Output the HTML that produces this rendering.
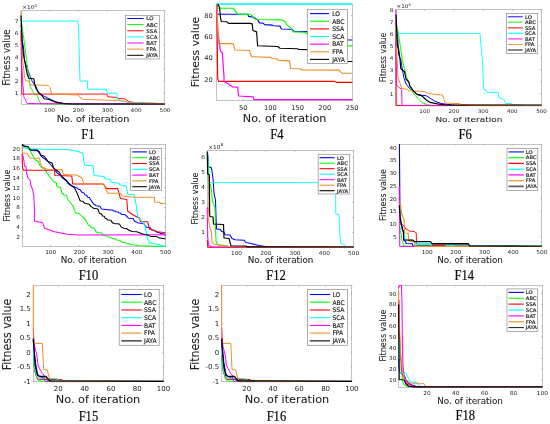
<!DOCTYPE html>
<html lang="en"><head><meta charset="utf-8"><title>Convergence curves</title>
<style>html,body{margin:0;padding:0;background:#fff;overflow:hidden}svg{display:block}text{font-family:"DejaVu Sans","Liberation Sans",sans-serif;fill:#222}.b{stroke:#222;stroke-width:0.07px}.lg{stroke:#222;stroke-width:0.16px}.cap{font-family:"Liberation Serif",serif;fill:#0a0a0a;stroke:#0a0a0a;stroke-width:0.22px}.c{fill:none;stroke-linejoin:round;stroke-linecap:butt}</style></head><body>
<svg width="550" height="424" viewBox="0 0 550 424">
<rect width="550" height="424" fill="#fff"/>
<g>
<rect x="21.5" y="10.5" width="143" height="94" fill="#fff" stroke="#c2c2c2" stroke-width="1"/>
<path d="M49.5 104.2v-1.2M49.5 10.4v1.2M78.4 104.2v-1.2M78.4 10.4v1.2M107.3 104.2v-1.2M107.3 10.4v1.2M136.2 104.2v-1.2M136.2 10.4v1.2M165 104.2v-1.2M165 10.4v1.2M21.2 93.2h1.2M164.6 93.2h-1.2M21.2 81.1h1.2M164.6 81.1h-1.2M21.2 69.1h1.2M164.6 69.1h-1.2M21.2 57.1h1.2M164.6 57.1h-1.2M21.2 45.1h1.2M164.6 45.1h-1.2M21.2 33h1.2M164.6 33h-1.2M21.2 21h1.2M164.6 21h-1.2" stroke="#a0a0a0" stroke-width="0.8" fill="none"/>
<clipPath id="cp1"><rect x="20" y="9.4" width="145.8" height="95.8"/></clipPath>
<g clip-path="url(#cp1)">
<path class="c" d="M21 25L22.7 43L23.5 47L24.5 60L27.3 68.8L29.5 74.6L31.7 80.5L34.6 84.9L36.1 89.2L39.7 94.4L44.9 96.5L49.2 98.7L55.1 101.7L60.9 103.1L66.8 103.9L164.6 104" stroke="#0000ff" stroke-width="0.95"/>
<path class="c" d="M21 20L21.5 22L24 40L26.6 60L28.8 77.5L30.2 86.3L33.9 93.6L37.5 95.8L39 100.9L41.2 103.6L45 104L164.6 104" stroke="#00ff00" stroke-width="0.95"/>
<path class="c" d="M21 30L21.8 94.1L106.8 94.1L107.7 96.8L116.8 97.4L117.7 98.6L124 98.6L126 99.5L128.6 101.4L132.3 102.3L139.5 102.9L165 103.8" stroke="#ff0000" stroke-width="0.95"/>
<path class="c" d="M21 15L21.3 21L77.8 21L78.5 27.3L79.5 65L80 81L87.3 81L87.8 89.2L106.5 89.2L107.2 93.2L116.8 93.2L117.7 99.5L124 101.4L128.6 102.3L143 102.8L165 103.8" stroke="#00ffff" stroke-width="0.95"/>
<path class="c" d="M21.2 30L21.8 65L22.7 83L23.5 90L23.8 96.4L24.4 98.6L25.7 99.5L26 101.8L27.3 103.4L36.8 103.6L165 104" stroke="#ff00ff" stroke-width="0.95"/>
<path class="c" d="M21 10.5L22.5 60L23.3 65L24.5 76L25.5 80.5L29 81.4L30 85L48.2 85.4L50 87.7L51.8 94L78.2 95L80 97.4L83.6 99.5L100 99.9L117.7 100.5L126 101.4L127.7 102.6L145 103.2L165 103.5" stroke="#ec9028" stroke-width="0.95"/>
<path class="c" d="M21 15.5L22 40L23.5 55L25 63L25.8 67L27.3 74.6L28.8 78.3L33.9 78.7L34.6 84.1L38.3 92.2L41.9 95.1L44.1 98.7L49.2 99.5L56.5 102.4L63.9 103.6L72.7 104L164.6 104" stroke="#000000" stroke-width="1.15"/>
</g>
<text transform="translate(49.5 112.2) scale(1.15 1)" font-size="5.1" text-anchor="middle">100</text>
<text transform="translate(78.4 112.2) scale(1.15 1)" font-size="5.1" text-anchor="middle">200</text>
<text transform="translate(107.3 112.2) scale(1.15 1)" font-size="5.1" text-anchor="middle">300</text>
<text transform="translate(136.2 112.2) scale(1.15 1)" font-size="5.1" text-anchor="middle">400</text>
<text transform="translate(165 112.2) scale(1.15 1)" font-size="5.1" text-anchor="middle">500</text>
<text transform="translate(18.6 95) scale(1.15 1)" font-size="5.1" text-anchor="end">1</text>
<text transform="translate(18.6 82.9) scale(1.15 1)" font-size="5.1" text-anchor="end">2</text>
<text transform="translate(18.6 70.9) scale(1.15 1)" font-size="5.1" text-anchor="end">3</text>
<text transform="translate(18.6 58.9) scale(1.15 1)" font-size="5.1" text-anchor="end">4</text>
<text transform="translate(18.6 46.9) scale(1.15 1)" font-size="5.1" text-anchor="end">5</text>
<text transform="translate(18.6 34.8) scale(1.15 1)" font-size="5.1" text-anchor="end">6</text>
<text transform="translate(18.6 22.8) scale(1.15 1)" font-size="5.1" text-anchor="end">7</text>
<text transform="translate(22 9) scale(1.15 1)" font-size="5.1">×10<tspan dy="-2.3" font-size="3.8">4</tspan></text>
<text transform="translate(10 57.5) rotate(-90) scale(1 1.15)" font-size="8.6" text-anchor="middle" class="b">Fitness value</text>
<text transform="translate(93 121.9) scale(1.13 1)" font-size="8.6" text-anchor="middle" class="b">No. of iteration</text>
<rect x="125.4" y="15.3" width="34.1" height="43.7" fill="#fff" stroke="#8c8c8c" stroke-width="0.7"/>
<path d="M127.2 18.5H143.5" stroke="#0000ff" stroke-width="1.0" fill="none"/>
<text transform="translate(146.3 20.3) scale(1.08 1)" font-size="5.1" class="lg">LO</text>
<path d="M127.2 24.6H143.5" stroke="#00ff00" stroke-width="1.0" fill="none"/>
<text transform="translate(146.3 26.5) scale(1.08 1)" font-size="5.1" class="lg">ABC</text>
<path d="M127.2 30.8H143.5" stroke="#ff0000" stroke-width="1.0" fill="none"/>
<text transform="translate(146.3 32.6) scale(1.08 1)" font-size="5.1" class="lg">SSA</text>
<path d="M127.2 36.9H143.5" stroke="#00ffff" stroke-width="1.0" fill="none"/>
<text transform="translate(146.3 38.7) scale(1.08 1)" font-size="5.1" class="lg">SCA</text>
<path d="M127.2 43H143.5" stroke="#ff00ff" stroke-width="1.0" fill="none"/>
<text transform="translate(146.3 44.9) scale(1.08 1)" font-size="5.1" class="lg">BAT</text>
<path d="M127.2 49.1H143.5" stroke="#ec9028" stroke-width="1.0" fill="none"/>
<text transform="translate(146.3 51) scale(1.08 1)" font-size="5.1" class="lg">FPA</text>
<path d="M127.2 55.3H143.5" stroke="#000000" stroke-width="1.0" fill="none"/>
<text transform="translate(146.3 57.1) scale(1.08 1)" font-size="5.1" class="lg">JAYA</text>
<text transform="translate(87.9 139.3) scale(0.83 1)" font-size="15.2" text-anchor="middle" class="cap">F1</text>
</g>
<g>
<rect x="216.5" y="4.5" width="136" height="96" fill="#fff" stroke="#c2c2c2" stroke-width="1"/>
<path d="M243.2 100.4v-1.2M243.2 4v1.2M270.4 100.4v-1.2M270.4 4v1.2M297.6 100.4v-1.2M297.6 4v1.2M324.8 100.4v-1.2M324.8 4v1.2M352.1 100.4v-1.2M352.1 4v1.2M216.5 79.2h1.2M352.4 79.2h-1.2M216.5 58h1.2M352.4 58h-1.2M216.5 36.8h1.2M352.4 36.8h-1.2M216.5 15.6h1.2M352.4 15.6h-1.2" stroke="#a0a0a0" stroke-width="0.8" fill="none"/>
<clipPath id="cp2"><rect x="215.3" y="3" width="138.3" height="98.4"/></clipPath>
<g clip-path="url(#cp2)">
<path class="c" d="M216.8 14.2L247.7 14.2L248.6 16.4L253.7 17.3L258 20.2L259.5 22.9L263.2 23.2L264.6 24.6L271.9 25.1L273.4 25.8L280 26.1L281.4 29L291.7 29.3L293.9 31.2L307 31.6L320 35L335 38L347.3 40L352.4 40" stroke="#0000ff" stroke-width="1.15"/>
<path class="c" d="M216.8 4L217.7 8.2L233.2 8.2L237.7 14.2L250 14.4L252.2 15.8L254.4 18.8L257.3 19.5L282.2 19.9L285.1 21.7L286.5 24.6L290.2 27.5L291.7 29L293.1 31.9L304.8 32.2L307 34.1L320 38L335 42L347.3 45.8L352.4 45.8" stroke="#00ff00" stroke-width="1.15"/>
<path class="c" d="M216.8 4L217.7 78.6L218.6 81.4L334.5 81.4L336.4 82.3L352.4 82.3" stroke="#ff0000" stroke-width="1.15"/>
<path class="c" d="M216.5 4L352.4 4" stroke="#00ffff" stroke-width="1.4"/>
<path class="c" d="M216.8 4L217.7 31L220.5 51L222.3 52.7L224 76.4L224 81.4L228.6 84L232.3 86.8L237.7 87.2L238.6 96L253.2 96.8L254 99.7L352.4 99.7" stroke="#ff00ff" stroke-width="1.2"/>
<path class="c" d="M216.8 4L217.4 18.2L218.6 43.6L233.2 43.6L235 50L249.5 50.5L251.4 56.6L270.5 57.4L272 58.5L277 59L278.5 60.4L289.5 60.9L290.6 68.5L300.4 68.8L301.9 70L339 70.1L341.8 73.2L352.4 73.2" stroke="#ec9028" stroke-width="1.15"/>
<path class="c" d="M217.7 4L219.5 7.3L220.5 18.2L221.4 21.5L226.8 21.8L228.6 23.4L250 23.4L252.2 23.9L252.9 30.5L256.6 31.9L257.6 45.8L277.8 46.5L280 48.3L297.5 48.7L299 49.5L307.3 49.6L320 55L335 58L347.3 61.5L352.4 61.5" stroke="#000000" stroke-width="1.15"/>
</g>
<text transform="translate(243.2 109.6) scale(1.03 1)" font-size="6.6" text-anchor="middle">50</text>
<text transform="translate(270.4 109.6) scale(1.03 1)" font-size="6.6" text-anchor="middle">100</text>
<text transform="translate(297.6 109.6) scale(1.03 1)" font-size="6.6" text-anchor="middle">150</text>
<text transform="translate(324.8 109.6) scale(1.03 1)" font-size="6.6" text-anchor="middle">200</text>
<text transform="translate(352.1 109.6) scale(1.03 1)" font-size="6.6" text-anchor="middle">250</text>
<text transform="translate(212.9 81.6) scale(1.03 1)" font-size="6.6" text-anchor="end">20</text>
<text transform="translate(212.9 60.4) scale(1.03 1)" font-size="6.6" text-anchor="end">40</text>
<text transform="translate(212.9 39.2) scale(1.03 1)" font-size="6.6" text-anchor="end">60</text>
<text transform="translate(212.9 18) scale(1.03 1)" font-size="6.6" text-anchor="end">80</text>
<text transform="translate(199.2 52) rotate(-90)" font-size="10.8" text-anchor="middle" class="b">Fitness value</text>
<text transform="translate(284.6 121.6) scale(1.13 1)" font-size="9.9" text-anchor="middle" class="b">No. of iteration</text>
<rect x="307.3" y="9.3" width="40.3" height="54.3" fill="#fff" stroke="#8c8c8c" stroke-width="0.7"/>
<path d="M310 13.6H329" stroke="#0000ff" stroke-width="1.1" fill="none"/>
<text transform="translate(332.2 15.9) scale(0.96 1)" font-size="6.3" class="lg">LO</text>
<path d="M310 21.2H329" stroke="#00ff00" stroke-width="1.1" fill="none"/>
<text transform="translate(332.2 23.5) scale(0.96 1)" font-size="6.3" class="lg">ABC</text>
<path d="M310 28.9H329" stroke="#ff0000" stroke-width="1.1" fill="none"/>
<text transform="translate(332.2 31.1) scale(0.96 1)" font-size="6.3" class="lg">SSA</text>
<path d="M310 36.5H329" stroke="#00ffff" stroke-width="1.1" fill="none"/>
<text transform="translate(332.2 38.8) scale(0.96 1)" font-size="6.3" class="lg">SCA</text>
<path d="M310 44.2H329" stroke="#ff00ff" stroke-width="1.1" fill="none"/>
<text transform="translate(332.2 46.4) scale(0.96 1)" font-size="6.3" class="lg">BAT</text>
<path d="M310 51.8H329" stroke="#ec9028" stroke-width="1.1" fill="none"/>
<text transform="translate(332.2 54.1) scale(0.96 1)" font-size="6.3" class="lg">FPA</text>
<path d="M310 59.4H329" stroke="#000000" stroke-width="1.1" fill="none"/>
<text transform="translate(332.2 61.7) scale(0.96 1)" font-size="6.3" class="lg">JAYA</text>
<text transform="translate(276.9 139) scale(0.83 1)" font-size="15.2" text-anchor="middle" class="cap">F4</text>
</g>
<g>
<rect x="395.5" y="9.5" width="146" height="96" fill="#fff" stroke="#c2c2c2" stroke-width="1"/>
<path d="M424.7 105.6v-1.2M424.7 9.6v1.2M453.9 105.6v-1.2M453.9 9.6v1.2M483.1 105.6v-1.2M483.1 9.6v1.2M512.3 105.6v-1.2M512.3 9.6v1.2M541.5 105.6v-1.2M541.5 9.6v1.2M395.5 93.6h1.2M541.5 93.6h-1.2M395.5 81.6h1.2M541.5 81.6h-1.2M395.5 69.6h1.2M541.5 69.6h-1.2M395.5 57.6h1.2M541.5 57.6h-1.2M395.5 45.6h1.2M541.5 45.6h-1.2M395.5 33.6h1.2M541.5 33.6h-1.2M395.5 21.6h1.2M541.5 21.6h-1.2M395.5 9.6h1.2M541.5 9.6h-1.2" stroke="#a0a0a0" stroke-width="0.8" fill="none"/>
<clipPath id="cp3"><rect x="394.3" y="8.6" width="148.4" height="98"/></clipPath>
<g clip-path="url(#cp3)">
<path class="c" d="M396.3 25.5L397.7 36.4L398.6 54.5L400.8 60L402.3 68.8L403.8 77.5L406 84.1L409.6 88.5L414 91.4L416.9 94.4L421.3 95.1L426.4 95.8L430.8 98.7L435.9 101.7L441.8 103.6L449.1 104.6L455 105.4L541.5 105.5" stroke="#0000ff" stroke-width="1.0"/>
<path class="c" d="M396.3 23.6L398.6 34.5L400.5 47.3L402.3 60L404.5 68.8L406.7 77.5L409.6 84.9L412.5 91.4L414.7 95.1L418.4 98.7L422 102.4L425 103.9L427.9 104.8L432 105.4L541.5 105.5" stroke="#00ff00" stroke-width="1.0"/>
<path class="c" d="M395.9 23L396.2 105.4L541.5 105.8" stroke="#ff0000" stroke-width="1.0"/>
<path class="c" d="M396 14L396.5 33.6L480 33.6L481.8 54.5L482.7 65L483.6 89.5L486.4 90L487.3 92.3L498.2 92.3L499 98L502.7 98.6L504.5 100.5L505.5 103.5L511.8 103.5L512.7 104.6L522.7 105L528 105.5L541.5 105.5" stroke="#00ffff" stroke-width="0.9"/>
<path class="c" d="M396 10L396.3 80L396.5 84.9L399.4 87.8L401.6 89.2L402 104.8L402.5 105.7L447 105.8" stroke="#ff00ff" stroke-width="1.0"/>
<path class="c" d="M396 23.6L396.4 45L397.2 60L397.9 77.5L400.1 83.4L401.6 88.5L407.4 89.2L408.9 91L424.2 91.4L428.6 93.6L442.5 95.1L444 99.5L445.4 103.1L459.3 103.6L461.5 104.6L475 105.2L541.5 105.3" stroke="#ec9028" stroke-width="1.0"/>
<path class="c" d="M396 14.5L396.8 32.7L397.4 45.5L398.6 49L400.1 60L400.8 68.8L404.5 71.7L406 79L408.9 82L409.6 85.6L413.3 90.7L416.9 94.4L422 95.8L425.7 99.5L430.1 102.4L437.4 103.9L444.7 104.8L450 105L541.5 105" stroke="#000000" stroke-width="1.2"/>
</g>
<text transform="translate(424.7 113.3) scale(1.08 1)" font-size="5.2" text-anchor="middle">100</text>
<text transform="translate(453.9 113.3) scale(1.08 1)" font-size="5.2" text-anchor="middle">200</text>
<text transform="translate(483.1 113.3) scale(1.08 1)" font-size="5.2" text-anchor="middle">300</text>
<text transform="translate(512.3 113.3) scale(1.08 1)" font-size="5.2" text-anchor="middle">400</text>
<text transform="translate(541.5 113.3) scale(1.08 1)" font-size="5.2" text-anchor="middle">500</text>
<text transform="translate(393.3 96.3) scale(1.08 1)" font-size="5.2" text-anchor="end">1</text>
<text transform="translate(393.3 84.3) scale(1.08 1)" font-size="5.2" text-anchor="end">2</text>
<text transform="translate(393.3 72.3) scale(1.08 1)" font-size="5.2" text-anchor="end">3</text>
<text transform="translate(393.3 60.3) scale(1.08 1)" font-size="5.2" text-anchor="end">4</text>
<text transform="translate(393.3 48.3) scale(1.08 1)" font-size="5.2" text-anchor="end">5</text>
<text transform="translate(393.3 36.3) scale(1.08 1)" font-size="5.2" text-anchor="end">6</text>
<text transform="translate(393.3 24.3) scale(1.08 1)" font-size="5.2" text-anchor="end">7</text>
<text transform="translate(393.3 12.3) scale(1.08 1)" font-size="5.2" text-anchor="end">8</text>
<text transform="translate(396.5 8) scale(1.08 1)" font-size="5.2">×10<tspan dy="-2.3" font-size="3.9">4</tspan></text>
<text transform="translate(386 57.5) rotate(-90) scale(1 1.19)" font-size="7.6" text-anchor="middle" class="b">Fitness value</text>
<text transform="translate(468.9 121.9) scale(1.15 1)" font-size="7.8" text-anchor="middle" class="b">No. of iteration</text>
<rect x="506.4" y="13.4" width="31.3" height="40.2" fill="#fff" stroke="#8c8c8c" stroke-width="0.7"/>
<path d="M507.8 16.7H522.7" stroke="#0000ff" stroke-width="1.5" stroke-opacity="0.65" fill="none"/>
<text transform="translate(525 18.5) scale(1.08 1)" font-size="4.9" class="lg">LO</text>
<path d="M507.8 22.2H522.7" stroke="#00ff00" stroke-width="1.4" stroke-opacity="0.7" fill="none"/>
<text transform="translate(525 24) scale(1.08 1)" font-size="4.9" class="lg">ABC</text>
<path d="M507.8 27.8H522.7" stroke="#ff0000" stroke-width="1.5" stroke-opacity="0.65" fill="none"/>
<text transform="translate(525 29.6) scale(1.08 1)" font-size="4.9" class="lg">SSA</text>
<path d="M507.8 33.3H522.7" stroke="#00ffff" stroke-width="1.4" stroke-opacity="0.8" fill="none"/>
<text transform="translate(525 35.1) scale(1.08 1)" font-size="4.9" class="lg">SCA</text>
<path d="M507.8 38.9H522.7" stroke="#ff00ff" stroke-width="1.5" stroke-opacity="0.65" fill="none"/>
<text transform="translate(525 40.7) scale(1.08 1)" font-size="4.9" class="lg">BAT</text>
<path d="M507.8 44.5H522.7" stroke="#ec9028" stroke-width="0.9" fill="none"/>
<text transform="translate(525 46.2) scale(1.08 1)" font-size="4.9" class="lg">FPA</text>
<path d="M507.8 50H522.7" stroke="#000000" stroke-width="1.6" stroke-opacity="0.6" fill="none"/>
<text transform="translate(525 51.8) scale(1.08 1)" font-size="4.9" class="lg">JAYA</text>
<text transform="translate(465.1 139) scale(0.83 1)" font-size="15.2" text-anchor="middle" class="cap">F6</text>
</g>
<g>
<rect x="22.5" y="144.5" width="143" height="102" fill="#fff" stroke="#c2c2c2" stroke-width="1"/>
<path d="M50.7 246.4v-1.2M50.7 144v1.2M79.4 246.4v-1.2M79.4 144v1.2M108.1 246.4v-1.2M108.1 144v1.2M136.8 246.4v-1.2M136.8 144v1.2M165.5 246.4v-1.2M165.5 144v1.2M22.2 236.9h1.2M165.5 236.9h-1.2M22.2 227.1h1.2M165.5 227.1h-1.2M22.2 217.3h1.2M165.5 217.3h-1.2M22.2 207.5h1.2M165.5 207.5h-1.2M22.2 197.7h1.2M165.5 197.7h-1.2M22.2 187.9h1.2M165.5 187.9h-1.2M22.2 178.1h1.2M165.5 178.1h-1.2M22.2 168.3h1.2M165.5 168.3h-1.2M22.2 158.5h1.2M165.5 158.5h-1.2M22.2 148.7h1.2M165.5 148.7h-1.2" stroke="#a0a0a0" stroke-width="0.8" fill="none"/>
<clipPath id="cp4"><rect x="21" y="143" width="145.7" height="104.4"/></clipPath>
<g clip-path="url(#cp4)">
<path class="c" d="M22 144.5L24 146L28 147L29.5 149.5L31 150.5L37.5 150.8L39.5 153L41.5 156.5L45 159L48 161.5L50 164L53.5 168L57 173L60 175L62 177.5L66 180.5L68 183.5L72 186L76.4 187.7L77.4 187.9L78.2 189.3L80.2 189.7L81.9 192.4L83.8 192.8L85 195L86.7 195.3L87.7 197.2L89.4 197.6L90.5 199.5L94 204.5L95.1 204.7L96.1 205.8L99.8 206.3L101.4 209L110.5 210L112.5 210.1L113.3 210.9L115.2 211.1L115.8 211.8L118 211.9L118.6 212.7L120.4 212.9L121.2 214.1L121.2 214.1L121.2 214.2L125.1 214.8L128.6 218.2L133.1 218.6L134.6 221.2L135.4 221.3L136.2 222L137 222.1L137.7 222.7L138 222.7L138.2 223L143.8 223.6L146.1 227L146.6 227L146.8 227.3L150.4 227.7L151.6 229.7L152 229.7L152.2 229.9L154.3 230.2L156 231.8L157.1 231.9L157.5 232.4L159 232.5L160.6 233.6L164 233.9L165.5 235.5" stroke="#0000ff" stroke-width="1.05"/>
<path class="c" d="M22 147L28 148L30 150L32.5 155L35 159.5L38.5 161.5L39.5 165L41.5 167.5L45 169L47 173L50 177L54 182L56.4 182.7L57 186.4L60.6 187.4L61.8 193.2L63 193.4L63.4 194.8L66.6 195.6L68.2 200L72.7 205.5L75.5 212.7L75.9 212.7L76.1 213L79.2 213.5L81.8 216.4L85 219L88.6 225.5L90 225.8L91 227.5L94.3 228.2L96 231.8L96.8 231.9L97.2 232.4L101.6 232.9L103.2 235.5L106.3 235.7L107.9 236.9L109.6 237L110.2 237.6L111.3 237.7L112.3 238.2L114 238.4L115.7 239.5L116.4 239.6L116.6 239.9L119.8 240.2L121.4 241.8L122.1 241.9L122.7 242.2L124.7 242.4L126.6 243.4L128.6 243.5L130.5 244.5L131.2 244.5L131.5 244.6L133.5 244.7L134.7 245.1L137.1 245.2L139.5 245.8L165.5 246.4" stroke="#00ff00" stroke-width="1.05"/>
<path class="c" d="M22 154L22.5 168L23.5 170.3L54.5 170.3L55 175.5L71.8 176L72.7 184L103.2 184L106.8 188.6L117.7 188.6L120.5 198.6L126.8 199.5L127.7 211L132.3 214.5L139.5 218.2L140.5 221.8L147.7 221.8L149.5 229L157.7 231.8L165.5 232.7" stroke="#ff0000" stroke-width="1.05"/>
<path class="c" d="M22 147.5L28 148.5L42 149.2L67.3 149.5L78.2 151.5L82.7 153.2L84.5 165L93.2 166L94 175.4L104 176.5L105 178.6L110.5 179.5L111.4 182.3L118.6 183.2L120.5 185L126 186L127.7 194L134 194.6L136 204L137.7 216.4L139.5 218.2L145 225.5L146.8 236.4L149.5 242.7L157.7 244.5L165.5 246.4" stroke="#00ffff" stroke-width="1.05"/>
<path class="c" d="M22.3 153L22.5 155L23.5 158L24.5 166L26 166.5L26.5 173L28 178L30 180L30.8 185L32.7 190L33.8 196L34.3 205L34.5 221L42.7 222.7L44.5 228.2L54.5 231.8L67.3 234.2L78.2 235L165.5 234.7" stroke="#ff00ff" stroke-width="1.05"/>
<path class="c" d="M22 146L22.5 153L27 153.2L30 158L39.5 158.2L40.5 164L42 167L45 168.5L48 169.5L58 169.8L62 169.5L63 173L64 174.5L76.4 175L81.8 177.7L83.6 183.2L100 184L104 185L107.7 193.2L120.5 193.2L122.3 196L134 197.2L153.7 197.3L154.5 197.8L154.7 202.1L159.7 202.3L160.5 203.4L165.5 203.5" stroke="#ec9028" stroke-width="1.05"/>
<path class="c" d="M22 144.5L24 146L28 146.5L30 149.5L31.5 150L37 150L39.5 152L40.5 155L44 156L46 158.5L48 161.5L52 163L53.5 167.5L56 170L59 172L61 175L63 177.5L67 181L70 184.5L74.5 187.7L77 193L80 200.5L80.3 200.6L80.6 200.9L83 201.3L85 203.6L88.9 204.1L91.3 206.8L92 206.9L92.3 207.3L92.9 207.4L93.3 208.2L97.9 209L99.5 213.6L101.7 214L102.4 216L104.4 216.3L105 218.2L106.3 218.5L107.8 219.9L111 220.3L112.3 222.7L112.7 222.7L112.8 223L113.5 223L113.8 223.5L119.4 224L121.4 227.3L122.4 227.4L123.5 228.2L126.5 228.5L129.7 230.7L130.3 230.7L130.5 231L131.3 231.1L132.1 231.4L132.4 231.4L132.6 231.5L136.7 231.8L141.4 233.6L142.4 233.7L143.2 234.2L144.4 234.2L144.7 234.6L147.7 234.9L150.5 236.4L156.6 236.6L158.9 237.9L159 237.9L159 237.9L160.2 237.9L161.2 238.3L161.8 238.3L162.2 238.4L164 238.5L165.5 239" stroke="#000000" stroke-width="1.05"/>
</g>
<text transform="translate(50.7 253.8) scale(1.08 1)" font-size="5.4" text-anchor="middle">100</text>
<text transform="translate(79.4 253.8) scale(1.08 1)" font-size="5.4" text-anchor="middle">200</text>
<text transform="translate(108.1 253.8) scale(1.08 1)" font-size="5.4" text-anchor="middle">300</text>
<text transform="translate(136.8 253.8) scale(1.08 1)" font-size="5.4" text-anchor="middle">400</text>
<text transform="translate(165.5 253.8) scale(1.08 1)" font-size="5.4" text-anchor="middle">500</text>
<text transform="translate(20 238.8) scale(1.08 1)" font-size="5.4" text-anchor="end">2</text>
<text transform="translate(20 229) scale(1.08 1)" font-size="5.4" text-anchor="end">4</text>
<text transform="translate(20 219.2) scale(1.08 1)" font-size="5.4" text-anchor="end">6</text>
<text transform="translate(20 209.4) scale(1.08 1)" font-size="5.4" text-anchor="end">8</text>
<text transform="translate(20 199.6) scale(1.08 1)" font-size="5.4" text-anchor="end">10</text>
<text transform="translate(20 189.8) scale(1.08 1)" font-size="5.4" text-anchor="end">12</text>
<text transform="translate(20 180) scale(1.08 1)" font-size="5.4" text-anchor="end">14</text>
<text transform="translate(20 170.2) scale(1.08 1)" font-size="5.4" text-anchor="end">16</text>
<text transform="translate(20 160.4) scale(1.08 1)" font-size="5.4" text-anchor="end">18</text>
<text transform="translate(20 150.6) scale(1.08 1)" font-size="5.4" text-anchor="end">20</text>
<text transform="translate(9.6 195.5) rotate(-90) scale(1 1.15)" font-size="8.0" text-anchor="middle" class="b">Fitness value</text>
<text transform="translate(93.6 263) scale(1.1 1)" font-size="8.0" text-anchor="middle" class="b">No. of iteration</text>
<rect x="130.5" y="148.6" width="31.2" height="41.9" fill="#fff" stroke="#8c8c8c" stroke-width="0.7"/>
<path d="M132.3 151.9H146.8" stroke="#0000ff" stroke-width="1.1" fill="none"/>
<text transform="translate(149 153.7) scale(1.08 1)" font-size="4.9" class="lg">LO</text>
<path d="M132.3 157.7H146.8" stroke="#00ff00" stroke-width="1.1" fill="none"/>
<text transform="translate(149 159.5) scale(1.08 1)" font-size="4.9" class="lg">ABC</text>
<path d="M132.3 163.5H146.8" stroke="#ff0000" stroke-width="1.1" fill="none"/>
<text transform="translate(149 165.3) scale(1.08 1)" font-size="4.9" class="lg">SSA</text>
<path d="M132.3 169.3H146.8" stroke="#00ffff" stroke-width="1.1" fill="none"/>
<text transform="translate(149 171.1) scale(1.08 1)" font-size="4.9" class="lg">SCA</text>
<path d="M132.3 175.1H146.8" stroke="#ff00ff" stroke-width="1.1" fill="none"/>
<text transform="translate(149 176.9) scale(1.08 1)" font-size="4.9" class="lg">BAT</text>
<path d="M132.3 180.9H146.8" stroke="#ec9028" stroke-width="1.1" fill="none"/>
<text transform="translate(149 182.7) scale(1.08 1)" font-size="4.9" class="lg">FPA</text>
<path d="M132.3 186.7H146.8" stroke="#000000" stroke-width="1.1" fill="none"/>
<text transform="translate(149 188.5) scale(1.08 1)" font-size="4.9" class="lg">JAYA</text>
<text transform="translate(88.4 279.6) scale(0.83 1)" font-size="15.1" text-anchor="middle" class="cap">F10</text>
</g>
<g>
<rect x="207.5" y="150.5" width="146" height="97" fill="#fff" stroke="#c2c2c2" stroke-width="1"/>
<path d="M236.5 247.3v-1.2M236.5 150.5v1.2M265.8 247.3v-1.2M265.8 150.5v1.2M295 247.3v-1.2M295 150.5v1.2M324.3 247.3v-1.2M324.3 150.5v1.2M353.6 247.3v-1.2M353.6 150.5v1.2M207.2 232.5h1.2M353.6 232.5h-1.2M207.2 217.5h1.2M353.6 217.5h-1.2M207.2 202.4h1.2M353.6 202.4h-1.2M207.2 187.4h1.2M353.6 187.4h-1.2M207.2 172.4h1.2M353.6 172.4h-1.2M207.2 157.3h1.2M353.6 157.3h-1.2" stroke="#a0a0a0" stroke-width="0.8" fill="none"/>
<clipPath id="cp5"><rect x="206" y="149.5" width="148.8" height="98.8"/></clipPath>
<g clip-path="url(#cp5)">
<path class="c" d="M207.7 153.2L208.6 166.8L211.4 167.7L212.3 173.2L213.2 180.5L214 193.2L215.5 200L216 217L216.5 229L220.5 229.5L221.5 231.5L224 232L225 234.8L230 235L232 238.5L235 239.8L244 240.2L246 242.5L250 243.2L255 244.5L259 245.6L266.8 246.8L353.6 247.2" stroke="#0000ff" stroke-width="1.05"/>
<path class="c" d="M207.7 156.8L209.5 182.3L211.4 189.5L212.3 200L214 205L215 208L215.5 228L216 241L217.5 244.5L226 245.8L232 247L353.6 247.2" stroke="#00ff00" stroke-width="1.05"/>
<path class="c" d="M207.2 240L207.8 247.2L353.6 247.2" stroke="#ff0000" stroke-width="1.05"/>
<path class="c" d="M207.4 151L208.2 182.6L335.5 182.6L335.8 214.2L339 214.5L340 236.4L341 243.6L344.5 244.5L346.4 247L353.6 247.2" stroke="#00ffff" stroke-width="0.9"/>
<path class="c" d="M207.2 207.3L207.7 236.4L208.6 245.5L212.3 247L353.6 247.2" stroke="#ff00ff" stroke-width="1.05"/>
<path class="c" d="M207.2 176L208.6 176.8L208.9 205L208 217L210 228L211.5 232L212 242L214 244L220 245.5L227 246.2L246 246.8L254 247.3L353.6 247.4" stroke="#ec9028" stroke-width="1.05"/>
<path class="c" d="M207.2 151.4L207.7 174L209.4 175L209.6 208L209.8 216.5L213 217L213.5 224L223.5 224.5L224 238L229 238.5L231 245.8L246 246L247 246.9L353.6 247" stroke="#000000" stroke-width="1.15"/>
</g>
<text transform="translate(236.5 254.6) scale(1.08 1)" font-size="5.4" text-anchor="middle">100</text>
<text transform="translate(265.8 254.6) scale(1.08 1)" font-size="5.4" text-anchor="middle">200</text>
<text transform="translate(295 254.6) scale(1.08 1)" font-size="5.4" text-anchor="middle">300</text>
<text transform="translate(324.3 254.6) scale(1.08 1)" font-size="5.4" text-anchor="middle">400</text>
<text transform="translate(353.6 254.6) scale(1.08 1)" font-size="5.4" text-anchor="middle">500</text>
<text transform="translate(205 234.4) scale(1.08 1)" font-size="5.4" text-anchor="end">1</text>
<text transform="translate(205 219.4) scale(1.08 1)" font-size="5.4" text-anchor="end">2</text>
<text transform="translate(205 204.3) scale(1.08 1)" font-size="5.4" text-anchor="end">3</text>
<text transform="translate(205 189.3) scale(1.08 1)" font-size="5.4" text-anchor="end">4</text>
<text transform="translate(205 174.3) scale(1.08 1)" font-size="5.4" text-anchor="end">5</text>
<text transform="translate(205 159.2) scale(1.08 1)" font-size="5.4" text-anchor="end">6</text>
<text transform="translate(208.2 148.5) scale(1.08 1)" font-size="5.4">×10<tspan dy="-2.4" font-size="4.1">8</tspan></text>
<text transform="translate(198 198.5) rotate(-90) scale(1 1.15)" font-size="8.0" text-anchor="middle" class="b">Fitness value</text>
<text transform="translate(280.5 263) scale(1.1 1)" font-size="8.0" text-anchor="middle" class="b">No. of iteration</text>
<rect x="318.2" y="154.3" width="31.5" height="39.7" fill="#fff" stroke="#8c8c8c" stroke-width="0.7"/>
<path d="M319.5 157.7H334.5" stroke="#0000ff" stroke-width="1.1" fill="none"/>
<text transform="translate(337 159.5) scale(1.08 1)" font-size="4.9" class="lg">LO</text>
<path d="M319.5 163.2H334.5" stroke="#00ff00" stroke-width="1.1" fill="none"/>
<text transform="translate(337 165) scale(1.08 1)" font-size="4.9" class="lg">ABC</text>
<path d="M319.5 168.7H334.5" stroke="#ff0000" stroke-width="1.1" fill="none"/>
<text transform="translate(337 170.5) scale(1.08 1)" font-size="4.9" class="lg">SSA</text>
<path d="M319.5 174.2H334.5" stroke="#00ffff" stroke-width="1.1" fill="none"/>
<text transform="translate(337 176) scale(1.08 1)" font-size="4.9" class="lg">SCA</text>
<path d="M319.5 179.7H334.5" stroke="#ff00ff" stroke-width="1.1" fill="none"/>
<text transform="translate(337 181.5) scale(1.08 1)" font-size="4.9" class="lg">BAT</text>
<path d="M319.5 185.2H334.5" stroke="#ec9028" stroke-width="1.1" fill="none"/>
<text transform="translate(337 187) scale(1.08 1)" font-size="4.9" class="lg">FPA</text>
<path d="M319.5 190.7H334.5" stroke="#000000" stroke-width="1.1" fill="none"/>
<text transform="translate(337 192.5) scale(1.08 1)" font-size="4.9" class="lg">JAYA</text>
<text transform="translate(276 279.6) scale(0.83 1)" font-size="15.1" text-anchor="middle" class="cap">F12</text>
</g>
<g>
<rect x="399.5" y="144.5" width="142" height="102" fill="#fff" stroke="#c2c2c2" stroke-width="1"/>
<path d="M427.2 246.4v-1.2M427.2 144v1.2M455.8 246.4v-1.2M455.8 144v1.2M484.5 246.4v-1.2M484.5 144v1.2M513.1 246.4v-1.2M513.1 144v1.2M541.8 246.4v-1.2M541.8 144v1.2M399 236.7h1.2M541.8 236.7h-1.2M399 224h1.2M541.8 224h-1.2M399 211.3h1.2M541.8 211.3h-1.2M399 198.6h1.2M541.8 198.6h-1.2M399 185.9h1.2M541.8 185.9h-1.2M399 173.2h1.2M541.8 173.2h-1.2M399 160.5h1.2M541.8 160.5h-1.2M399 147.8h1.2M541.8 147.8h-1.2" stroke="#a0a0a0" stroke-width="0.8" fill="none"/>
<clipPath id="cp6"><rect x="397.8" y="143" width="145.2" height="104.4"/></clipPath>
<g clip-path="url(#cp6)">
<path class="c" d="M399.4 144L399.9 205L400.5 223.6L402.3 227.3L403.6 234.5L404.1 240.3L405.7 241.6L406 243.5L412.4 243.8L412.7 245.9L541.8 246.2" stroke="#0000ff" stroke-width="1.1"/>
<path class="c" d="M399.8 227.3L400.5 232.7L401.2 233.3L401.7 240.3L402.8 241.6L403.2 245.7L407 246.2L541.8 246.2" stroke="#00ff00" stroke-width="0.95"/>
<path class="c" d="M399.5 211L401.4 223.6L404 226.4L406 229L409.5 231L415 231.8L416.2 233L416.6 244L416.8 245.4L445 245.4L446 246.5L541.8 246.5" stroke="#ff0000" stroke-width="0.95"/>
<path class="c" d="M399.5 200L400.5 218.2L401.4 227.3L403.2 232L404.8 236L404.9 240.2L413 240.2L414.6 241.7L415.4 244.1L431 244.1L431.6 246.5L541.8 246.5" stroke="#00ffff" stroke-width="0.95"/>
<path class="c" d="M415.6 244.2L431 244.2" stroke="#00ffff" stroke-width="2.0"/>
<path class="c" d="M445.6 245.4L455 245.4" stroke="#00ffff" stroke-width="0.95"/>
<path class="c" d="M399.2 186L399.6 225.5L399.8 246.4L414 246.5L541.8 246.5" stroke="#ff00ff" stroke-width="0.95"/>
<path class="c" d="M400.5 202.7L401.4 212.7L404 220L404.7 233L408.2 233.3L408.6 240.9L413 241.6L414.3 242.5L415 246.5L445 246.5L541.8 246.5" stroke="#ec9028" stroke-width="1.1"/>
<path class="c" d="M431.5 244.5L468.2 244.5" stroke="#7a7a7a" stroke-width="1"/>
<path class="c" d="M399.2 205.5L400.5 220L402.3 229L403.5 232L403.6 240L413 240.1L414.6 241.6L430.5 241.6L432 243.6L468.2 243.6L469.6 245.9L541.8 246.2" stroke="#000000" stroke-width="1.15"/>
</g>
<text transform="translate(427.2 253.8) scale(1.08 1)" font-size="5.4" text-anchor="middle">100</text>
<text transform="translate(455.8 253.8) scale(1.08 1)" font-size="5.4" text-anchor="middle">200</text>
<text transform="translate(484.5 253.8) scale(1.08 1)" font-size="5.4" text-anchor="middle">300</text>
<text transform="translate(513.1 253.8) scale(1.08 1)" font-size="5.4" text-anchor="middle">400</text>
<text transform="translate(541.8 253.8) scale(1.08 1)" font-size="5.4" text-anchor="middle">500</text>
<text transform="translate(396.8 238.6) scale(1.08 1)" font-size="5.4" text-anchor="end">5</text>
<text transform="translate(396.8 225.9) scale(1.08 1)" font-size="5.4" text-anchor="end">10</text>
<text transform="translate(396.8 213.2) scale(1.08 1)" font-size="5.4" text-anchor="end">15</text>
<text transform="translate(396.8 200.5) scale(1.08 1)" font-size="5.4" text-anchor="end">20</text>
<text transform="translate(396.8 187.8) scale(1.08 1)" font-size="5.4" text-anchor="end">25</text>
<text transform="translate(396.8 175.1) scale(1.08 1)" font-size="5.4" text-anchor="end">30</text>
<text transform="translate(396.8 162.4) scale(1.08 1)" font-size="5.4" text-anchor="end">35</text>
<text transform="translate(396.8 149.7) scale(1.08 1)" font-size="5.4" text-anchor="end">40</text>
<text transform="translate(386 195) rotate(-90) scale(1 1.15)" font-size="8.0" text-anchor="middle" class="b">Fitness value</text>
<text transform="translate(470 263) scale(1.1 1)" font-size="8.0" text-anchor="middle" class="b">No. of iteration</text>
<rect x="507" y="148.4" width="30.8" height="42.1" fill="#fff" stroke="#8c8c8c" stroke-width="0.7"/>
<path d="M508.5 151.9H523.9" stroke="#0000ff" stroke-width="1.8" stroke-opacity="0.6" fill="none"/>
<text transform="translate(525.8 153.7) scale(1.08 1)" font-size="4.9" class="lg">LO</text>
<path d="M508.5 157.7H523.9" stroke="#00ff00" stroke-width="1.2" fill="none"/>
<text transform="translate(525.8 159.4) scale(1.08 1)" font-size="4.9" class="lg">ABC</text>
<path d="M508.5 163.4H523.9" stroke="#ff0000" stroke-width="1.2" fill="none"/>
<text transform="translate(525.8 165.2) scale(1.08 1)" font-size="4.9" class="lg">SSA</text>
<path d="M508.5 169.2H523.9" stroke="#00ffff" stroke-width="1.2" fill="none"/>
<text transform="translate(525.8 170.9) scale(1.08 1)" font-size="4.9" class="lg">SCA</text>
<path d="M508.5 174.9H523.9" stroke="#ff00ff" stroke-width="1.2" fill="none"/>
<text transform="translate(525.8 176.7) scale(1.08 1)" font-size="4.9" class="lg">BAT</text>
<path d="M508.5 180.7H523.9" stroke="#ec9028" stroke-width="1.2" fill="none"/>
<text transform="translate(525.8 182.4) scale(1.08 1)" font-size="4.9" class="lg">FPA</text>
<path d="M508.5 186.4H523.9" stroke="#000000" stroke-width="1.8" stroke-opacity="0.6" fill="none"/>
<text transform="translate(525.8 188.2) scale(1.08 1)" font-size="4.9" class="lg">JAYA</text>
<text transform="translate(464.2 279.6) scale(0.83 1)" font-size="15.1" text-anchor="middle" class="cap">F14</text>
</g>
<g>
<rect x="33.5" y="285.5" width="130" height="96" fill="#fff" stroke="#c2c2c2" stroke-width="1"/>
<path d="M58.3 381.2v-1.2M58.3 285.5v1.2M84.6 381.2v-1.2M84.6 285.5v1.2M110.9 381.2v-1.2M110.9 285.5v1.2M137.2 381.2v-1.2M137.2 285.5v1.2M163.5 381.2v-1.2M163.5 285.5v1.2M33 381.4h1.2M163.5 381.4h-1.2M33 366.9h1.2M163.5 366.9h-1.2M33 352.3h1.2M163.5 352.3h-1.2M33 337.8h1.2M163.5 337.8h-1.2M33 323.2h1.2M163.5 323.2h-1.2M33 308.7h1.2M163.5 308.7h-1.2M33 294.1h1.2M163.5 294.1h-1.2" stroke="#a0a0a0" stroke-width="0.8" fill="none"/>
<clipPath id="cp7"><rect x="31.8" y="284.5" width="132.9" height="97.7"/></clipPath>
<g clip-path="url(#cp7)">
<path class="c" d="M33.3 340L33.6 346L35.5 362.3L37.3 373.2L39 376L43.6 378.6L49 380.5L52 381.6L163.5 381.4" stroke="#0000ff" stroke-width="1.0"/>
<path class="c" d="M33.3 358.6L33.6 365L34.9 371.4L36.5 376.5L37.7 379.6L39 381L43.5 381.2L163.5 381.4" stroke="#00ff00" stroke-width="1.0"/>
<path class="c" d="M33.4 355L34.9 371.4L36.5 376.5L38.4 379.3L48 379.5L61.8 379.5L62.7 381L163.5 381.4" stroke="#ff0000" stroke-width="1.0"/>
<path class="c" d="M33.3 350L34.2 365L35.2 371.4L37.1 376.5L38.4 378L44.7 378.4L53 378.5L58.2 379L59 381L163.5 381.4" stroke="#00ffff" stroke-width="1.0"/>
<path class="c" d="M33.3 328L33.6 335L34.5 346L36.8 355L38 365L39.7 368.8L41.2 371.4L42.5 373.9L44.1 375.2L44.4 380.3L46 381.6L51 381.9L102 381.9L103 381.4L163.5 381.4" stroke="#ff00ff" stroke-width="1.0"/>
<path class="c" d="M33.3 285.5L33.3 343.4L42.4 343.4L43.6 369.5L47.3 370L49.5 378.6L51 380.8L55 381.6L163.5 381.4" stroke="#ec9028" stroke-width="1.0"/>
<path class="c" d="M33.3 338.6L34.3 353.2L35.2 365L36.5 371.4L37.7 375.5L39.7 376.5L46 376.5L47.9 378.7L49.8 380.9L163.5 381.4" stroke="#000000" stroke-width="1.3"/>
</g>
<text transform="translate(58.3 390.8) scale(1.03 1)" font-size="6.8" text-anchor="middle">20</text>
<text transform="translate(84.6 390.8) scale(1.03 1)" font-size="6.8" text-anchor="middle">40</text>
<text transform="translate(110.9 390.8) scale(1.03 1)" font-size="6.8" text-anchor="middle">60</text>
<text transform="translate(137.2 390.8) scale(1.03 1)" font-size="6.8" text-anchor="middle">80</text>
<text transform="translate(163.5 390.8) scale(1.03 1)" font-size="6.8" text-anchor="middle">100</text>
<text transform="translate(30.8 383.8) scale(1.03 1)" font-size="6.8" text-anchor="end">-1</text>
<text transform="translate(30.8 369.3) scale(1.03 1)" font-size="6.8" text-anchor="end">-0.5</text>
<text transform="translate(30.8 354.7) scale(1.03 1)" font-size="6.8" text-anchor="end">0</text>
<text transform="translate(30.8 340.2) scale(1.03 1)" font-size="6.8" text-anchor="end">0.5</text>
<text transform="translate(30.8 325.6) scale(1.03 1)" font-size="6.8" text-anchor="end">1</text>
<text transform="translate(30.8 311.1) scale(1.03 1)" font-size="6.8" text-anchor="end">1.5</text>
<text transform="translate(30.8 296.5) scale(1.03 1)" font-size="6.8" text-anchor="end">2</text>
<text transform="translate(11 334.5) rotate(-90) scale(1 1.08)" font-size="11.0" text-anchor="middle" class="b">Fitness value</text>
<text transform="translate(98 403.4) scale(1.13 1)" font-size="10.0" text-anchor="middle" class="b">No. of iteration</text>
<rect x="119.2" y="289.6" width="40" height="55.7" fill="#fff" stroke="#8c8c8c" stroke-width="0.7"/>
<path d="M121.4 294.5H141.7" stroke="#0000ff" stroke-width="1.1" fill="none"/>
<text transform="translate(144 296.8) scale(0.96 1)" font-size="6.3" class="lg">LO</text>
<path d="M121.4 302.2H141.7" stroke="#00ff00" stroke-width="1.1" fill="none"/>
<text transform="translate(144 304.5) scale(0.96 1)" font-size="6.3" class="lg">ABC</text>
<path d="M121.4 310H141.7" stroke="#ff0000" stroke-width="1.1" fill="none"/>
<text transform="translate(144 312.2) scale(0.96 1)" font-size="6.3" class="lg">SSA</text>
<path d="M121.4 317.7H141.7" stroke="#00ffff" stroke-width="1.1" fill="none"/>
<text transform="translate(144 320) scale(0.96 1)" font-size="6.3" class="lg">SCA</text>
<path d="M121.4 325.4H141.7" stroke="#ff00ff" stroke-width="1.1" fill="none"/>
<text transform="translate(144 327.7) scale(0.96 1)" font-size="6.3" class="lg">BAT</text>
<path d="M121.4 333.1H141.7" stroke="#ec9028" stroke-width="1.1" fill="none"/>
<text transform="translate(144 335.4) scale(0.96 1)" font-size="6.3" class="lg">FPA</text>
<path d="M121.4 340.9H141.7" stroke="#000000" stroke-width="1.1" fill="none"/>
<text transform="translate(144 343.1) scale(0.96 1)" font-size="6.3" class="lg">JAYA</text>
<text transform="translate(88.4 420.6) scale(0.83 1)" font-size="15.1" text-anchor="middle" class="cap">F15</text>
</g>
<g>
<rect x="221.5" y="285.5" width="130" height="96" fill="#fff" stroke="#c2c2c2" stroke-width="1"/>
<path d="M246.7 381.2v-1.2M246.7 285.5v1.2M273 381.2v-1.2M273 285.5v1.2M299.3 381.2v-1.2M299.3 285.5v1.2M325.6 381.2v-1.2M325.6 285.5v1.2M351.9 381.2v-1.2M351.9 285.5v1.2M221.4 381.4h1.2M351.9 381.4h-1.2M221.4 366.9h1.2M351.9 366.9h-1.2M221.4 352.3h1.2M351.9 352.3h-1.2M221.4 337.8h1.2M351.9 337.8h-1.2M221.4 323.2h1.2M351.9 323.2h-1.2M221.4 308.7h1.2M351.9 308.7h-1.2M221.4 294.1h1.2M351.9 294.1h-1.2" stroke="#a0a0a0" stroke-width="0.8" fill="none"/>
<clipPath id="cp8"><rect x="220.2" y="284.5" width="132.9" height="97.7"/></clipPath>
<g clip-path="url(#cp8)">
<path class="c" d="M221.7 340L222 346L223.9 362.3L225.7 373.2L227.4 376L232 378.6L237.4 380.5L240.4 381.6L351.9 381.4" stroke="#0000ff" stroke-width="1.0"/>
<path class="c" d="M221.7 358.6L222 365L223.3 371.4L224.9 376.5L226.1 379.6L227.4 381L231.9 381.2L351.9 381.4" stroke="#00ff00" stroke-width="1.0"/>
<path class="c" d="M221.8 355L223.3 371.4L224.9 376.5L226.8 379.3L236.4 379.5L250.2 379.5L251.1 381L351.9 381.4" stroke="#ff0000" stroke-width="1.0"/>
<path class="c" d="M221.7 350L222.6 365L223.6 371.4L225.5 376.5L226.8 378L233.1 378.4L241.4 378.5L246.6 379L247.4 381L351.9 381.4" stroke="#00ffff" stroke-width="1.0"/>
<path class="c" d="M221.7 328L222 335L222.9 346L225.2 355L226.4 365L228.1 368.8L229.6 371.4L230.9 373.9L232.5 375.2L232.8 380.3L234.4 381.6L239.4 381.9L290.4 381.9L291.4 381.4L351.9 381.4" stroke="#ff00ff" stroke-width="1.0"/>
<path class="c" d="M221.7 285.5L221.7 343.4L230.8 343.4L232 369.5L235.7 370L237.9 378.6L239.4 380.8L243.4 381.6L351.9 381.4" stroke="#ec9028" stroke-width="1.0"/>
<path class="c" d="M221.7 338.6L222.7 353.2L223.6 365L224.9 371.4L226.1 375.5L228.1 376.5L234.4 376.5L236.3 378.7L238.2 380.9L351.9 381.4" stroke="#000000" stroke-width="1.3"/>
</g>
<text transform="translate(246.7 390.8) scale(1.03 1)" font-size="6.8" text-anchor="middle">20</text>
<text transform="translate(273 390.8) scale(1.03 1)" font-size="6.8" text-anchor="middle">40</text>
<text transform="translate(299.3 390.8) scale(1.03 1)" font-size="6.8" text-anchor="middle">60</text>
<text transform="translate(325.6 390.8) scale(1.03 1)" font-size="6.8" text-anchor="middle">80</text>
<text transform="translate(351.9 390.8) scale(1.03 1)" font-size="6.8" text-anchor="middle">100</text>
<text transform="translate(219.2 383.8) scale(1.03 1)" font-size="6.8" text-anchor="end">-1</text>
<text transform="translate(219.2 369.3) scale(1.03 1)" font-size="6.8" text-anchor="end">-0.5</text>
<text transform="translate(219.2 354.7) scale(1.03 1)" font-size="6.8" text-anchor="end">0</text>
<text transform="translate(219.2 340.2) scale(1.03 1)" font-size="6.8" text-anchor="end">0.5</text>
<text transform="translate(219.2 325.6) scale(1.03 1)" font-size="6.8" text-anchor="end">1</text>
<text transform="translate(219.2 311.1) scale(1.03 1)" font-size="6.8" text-anchor="end">1.5</text>
<text transform="translate(219.2 296.5) scale(1.03 1)" font-size="6.8" text-anchor="end">2</text>
<text transform="translate(199.4 334.5) rotate(-90) scale(1 1.08)" font-size="11.0" text-anchor="middle" class="b">Fitness value</text>
<text transform="translate(287 403.4) scale(1.13 1)" font-size="10.0" text-anchor="middle" class="b">No. of iteration</text>
<rect x="307.6" y="289.6" width="40" height="55.7" fill="#fff" stroke="#8c8c8c" stroke-width="0.7"/>
<path d="M309.8 294.5H330.1" stroke="#0000ff" stroke-width="1.1" fill="none"/>
<text transform="translate(332.4 296.8) scale(0.96 1)" font-size="6.3" class="lg">LO</text>
<path d="M309.8 302.2H330.1" stroke="#00ff00" stroke-width="1.1" fill="none"/>
<text transform="translate(332.4 304.5) scale(0.96 1)" font-size="6.3" class="lg">ABC</text>
<path d="M309.8 310H330.1" stroke="#ff0000" stroke-width="1.1" fill="none"/>
<text transform="translate(332.4 312.2) scale(0.96 1)" font-size="6.3" class="lg">SSA</text>
<path d="M309.8 317.7H330.1" stroke="#00ffff" stroke-width="1.1" fill="none"/>
<text transform="translate(332.4 320) scale(0.96 1)" font-size="6.3" class="lg">SCA</text>
<path d="M309.8 325.4H330.1" stroke="#ff00ff" stroke-width="1.1" fill="none"/>
<text transform="translate(332.4 327.7) scale(0.96 1)" font-size="6.3" class="lg">BAT</text>
<path d="M309.8 333.1H330.1" stroke="#ec9028" stroke-width="1.1" fill="none"/>
<text transform="translate(332.4 335.4) scale(0.96 1)" font-size="6.3" class="lg">FPA</text>
<path d="M309.8 340.9H330.1" stroke="#000000" stroke-width="1.1" fill="none"/>
<text transform="translate(332.4 343.1) scale(0.96 1)" font-size="6.3" class="lg">JAYA</text>
<text transform="translate(276.4 420.6) scale(0.83 1)" font-size="15.1" text-anchor="middle" class="cap">F16</text>
</g>
<g>
<rect x="398.5" y="285.5" width="144" height="102" fill="#fff" stroke="#c2c2c2" stroke-width="1"/>
<path d="M426.9 387.4v-1.2M426.9 285.5v1.2M455.8 387.4v-1.2M455.8 285.5v1.2M484.6 387.4v-1.2M484.6 285.5v1.2M513.5 387.4v-1.2M513.5 285.5v1.2M542.4 387.4v-1.2M542.4 285.5v1.2M398.6 380h1.2M542.4 380h-1.2M398.6 369.2h1.2M542.4 369.2h-1.2M398.6 358.4h1.2M542.4 358.4h-1.2M398.6 347.6h1.2M542.4 347.6h-1.2M398.6 336.8h1.2M542.4 336.8h-1.2M398.6 326h1.2M542.4 326h-1.2M398.6 315.2h1.2M542.4 315.2h-1.2M398.6 304.4h1.2M542.4 304.4h-1.2M398.6 293.6h1.2M542.4 293.6h-1.2" stroke="#a0a0a0" stroke-width="0.8" fill="none"/>
<clipPath id="cp9"><rect x="397.4" y="284.5" width="146.2" height="103.9"/></clipPath>
<g clip-path="url(#cp9)">
<path class="c" d="M398.6 358.6L399.5 371.4L401.4 374L404 375L406 379.5L408.6 383.2L412.3 385L417.7 386.8L542.4 386.8" stroke="#0000ff" stroke-width="0.95"/>
<path class="c" d="M399 330L399.5 358.6L401.4 360.5L402.3 380.5L404 385L407.7 386.8L542.4 386.8" stroke="#00ff00" stroke-width="0.95"/>
<path class="c" d="M399 300L399.5 335L400.5 353.2L401.4 369.5L403.2 376.8L406 381.4L408.6 384L412.3 386L416.8 386.8L542.4 386.8" stroke="#ff0000" stroke-width="0.95"/>
<path class="c" d="M399 340L400 372L401.4 374L403.2 372.3L406 373.2L408.6 378.6L410.5 382L417.7 382.6L419.5 386L423.2 386.8L542.4 386.8" stroke="#00ffff" stroke-width="0.95"/>
<path class="c" d="M398.6 288.2L399.5 285.5L401.4 285.5L402 302.7L402.3 335L402.8 362.3L404 376.8L406 382.3L409.5 386L414 386.8L542.4 386.8" stroke="#ff00ff" stroke-width="1.05"/>
<path class="c" d="M398.6 290L398.8 304L400.5 353.2L402.3 367.7L404 378.6L408.6 381.4L412.3 383.7L424 383.7L426 386.8L430.5 386.8L542.4 386.8" stroke="#ec9028" stroke-width="0.95"/>
<path class="c" d="M398.6 304.5L399.2 379.5L404 380L406 384L408.6 386.3L412.3 386.8L542.4 386.8" stroke="#000000" stroke-width="1.15"/>
</g>
<text transform="translate(426.9 394.8) scale(1.08 1)" font-size="5.4" text-anchor="middle">20</text>
<text transform="translate(455.8 394.8) scale(1.08 1)" font-size="5.4" text-anchor="middle">40</text>
<text transform="translate(484.6 394.8) scale(1.08 1)" font-size="5.4" text-anchor="middle">60</text>
<text transform="translate(513.5 394.8) scale(1.08 1)" font-size="5.4" text-anchor="middle">80</text>
<text transform="translate(542.4 394.8) scale(1.08 1)" font-size="5.4" text-anchor="middle">100</text>
<text transform="translate(396.4 381.9) scale(1.08 1)" font-size="5.4" text-anchor="end">10</text>
<text transform="translate(396.4 371.1) scale(1.08 1)" font-size="5.4" text-anchor="end">20</text>
<text transform="translate(396.4 360.3) scale(1.08 1)" font-size="5.4" text-anchor="end">30</text>
<text transform="translate(396.4 349.5) scale(1.08 1)" font-size="5.4" text-anchor="end">40</text>
<text transform="translate(396.4 338.7) scale(1.08 1)" font-size="5.4" text-anchor="end">50</text>
<text transform="translate(396.4 327.9) scale(1.08 1)" font-size="5.4" text-anchor="end">60</text>
<text transform="translate(396.4 317.1) scale(1.08 1)" font-size="5.4" text-anchor="end">70</text>
<text transform="translate(396.4 306.3) scale(1.08 1)" font-size="5.4" text-anchor="end">80</text>
<text transform="translate(396.4 295.5) scale(1.08 1)" font-size="5.4" text-anchor="end">90</text>
<text transform="translate(386 335.6) rotate(-90) scale(1 1.15)" font-size="8.0" text-anchor="middle" class="b">Fitness value</text>
<text transform="translate(470 403.6) scale(1.1 1)" font-size="8.0" text-anchor="middle" class="b">No. of iteration</text>
<rect x="507" y="288.9" width="30.7" height="42.6" fill="#fff" stroke="#8c8c8c" stroke-width="0.7"/>
<path d="M508.5 292.4H523.9" stroke="#0000ff" stroke-width="1.1" fill="none"/>
<text transform="translate(525.8 294.2) scale(1.08 1)" font-size="4.9" class="lg">LO</text>
<path d="M508.5 298.3H523.9" stroke="#00ff00" stroke-width="1.1" fill="none"/>
<text transform="translate(525.8 300) scale(1.08 1)" font-size="4.9" class="lg">ABC</text>
<path d="M508.5 304.1H523.9" stroke="#ff0000" stroke-width="1.1" fill="none"/>
<text transform="translate(525.8 305.9) scale(1.08 1)" font-size="4.9" class="lg">SSA</text>
<path d="M508.5 310H523.9" stroke="#00ffff" stroke-width="1.1" fill="none"/>
<text transform="translate(525.8 311.8) scale(1.08 1)" font-size="4.9" class="lg">SCA</text>
<path d="M508.5 315.9H523.9" stroke="#ff00ff" stroke-width="1.1" fill="none"/>
<text transform="translate(525.8 317.6) scale(1.08 1)" font-size="4.9" class="lg">BAT</text>
<path d="M508.5 321.8H523.9" stroke="#ec9028" stroke-width="1.1" fill="none"/>
<text transform="translate(525.8 323.5) scale(1.08 1)" font-size="4.9" class="lg">FPA</text>
<path d="M508.5 327.6H523.9" stroke="#000000" stroke-width="0.9" fill="none"/>
<text transform="translate(525.8 329.4) scale(1.08 1)" font-size="4.9" class="lg">JAYA</text>
<text transform="translate(465.2 420.4) scale(0.83 1)" font-size="15.1" text-anchor="middle" class="cap">F18</text>
</g>
</svg></body></html>
